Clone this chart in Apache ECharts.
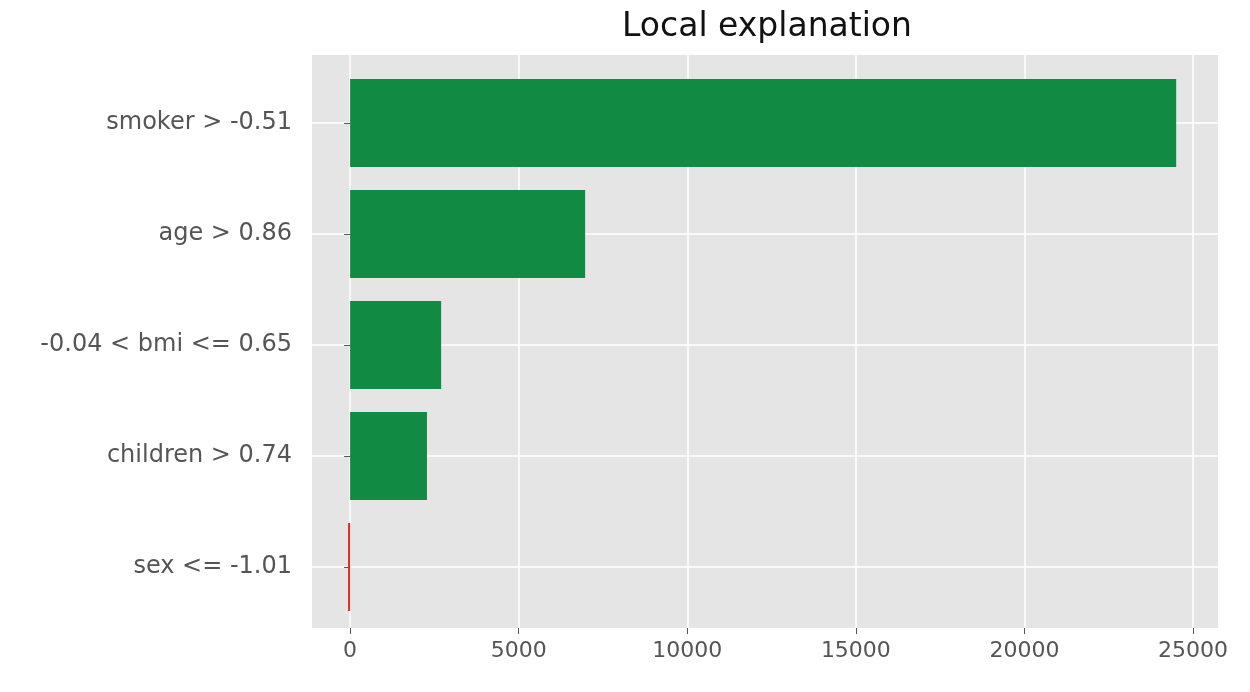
<!DOCTYPE html>
<html><head><meta charset="utf-8">
<script src="https://cdn.jsdelivr.net/npm/echarts@6/dist/echarts.min.js"></script>
<style>html,body{margin:0;background:#fff}#c{width:1250px;height:692px}</style>
</head><body><div id="c"></div>
<script>
// feature conditions, top to bottom
var features = ['smoker > -0.51', 'age > 0.86', '-0.04 < bmi <= 0.65', 'children > 0.74', 'sex <= -1.01'];
var weights = [24500, 6970, 2700, 2280, -60];
var xTicks = [0, 5000, 10000, 15000, 20000, 25000];

var chart = echarts.init(document.getElementById('c'));
var xMin = -1130, xMax = 25740;
chart.setOption({
  animation: false,
  title: { text: 'Local explanation', left: 762, top: 6, textAlign: 'center',
    textStyle: { fontFamily: 'DejaVu Sans', fontSize: 33, fontWeight: 'normal', color: '#111' } },
  grid: [
    { left: 312, right: 32, top: 55, bottom: 64, show: true, backgroundColor: '#e5e5e5', borderWidth: 0 },
    { left: 312, right: 32, top: 123, bottom: 125 }
  ],
  xAxis: [
    { gridIndex: 0, type: 'value', min: xMin, max: xMax, interval: 5000,
      axisLine: { show: false }, axisTick: { show: true, length: 6, lineStyle: { color: '#555' }, customValues: xTicks },
      axisLabel: { fontFamily: 'DejaVu Sans', fontSize: 22, color: '#555', margin: 12, customValues: xTicks,
        formatter: function (v) { return xTicks.indexOf(v) >= 0 ? String(v) : ''; } },
      splitLine: { show: true, lineStyle: { color: '#fff', width: 1.5 } } },
    { gridIndex: 1, type: 'value', min: xMin, max: xMax, show: false }
  ],
  yAxis: [
    { gridIndex: 0, type: 'value', show: false },
    { gridIndex: 1, type: 'category', data: features, inverse: true, boundaryGap: false,
      axisLine: { show: false }, axisTick: { show: true, length: 6, lineStyle: { color: '#555' } },
      axisLabel: { fontFamily: 'DejaVu Sans', fontSize: 24, color: '#555', margin: 20 },
      splitLine: { show: true, lineStyle: { color: '#fff', width: 1.5 } } }
  ],
  series: [{
    type: 'bar', xAxisIndex: 1, yAxisIndex: 1, barWidth: 88, clip: false,
    data: weights.map(function (w) {
      return { value: w, itemStyle: { color: w >= 0 ? '#118a44' : '#e02a1f' } };
    })
  }]
});
</script></body></html>
